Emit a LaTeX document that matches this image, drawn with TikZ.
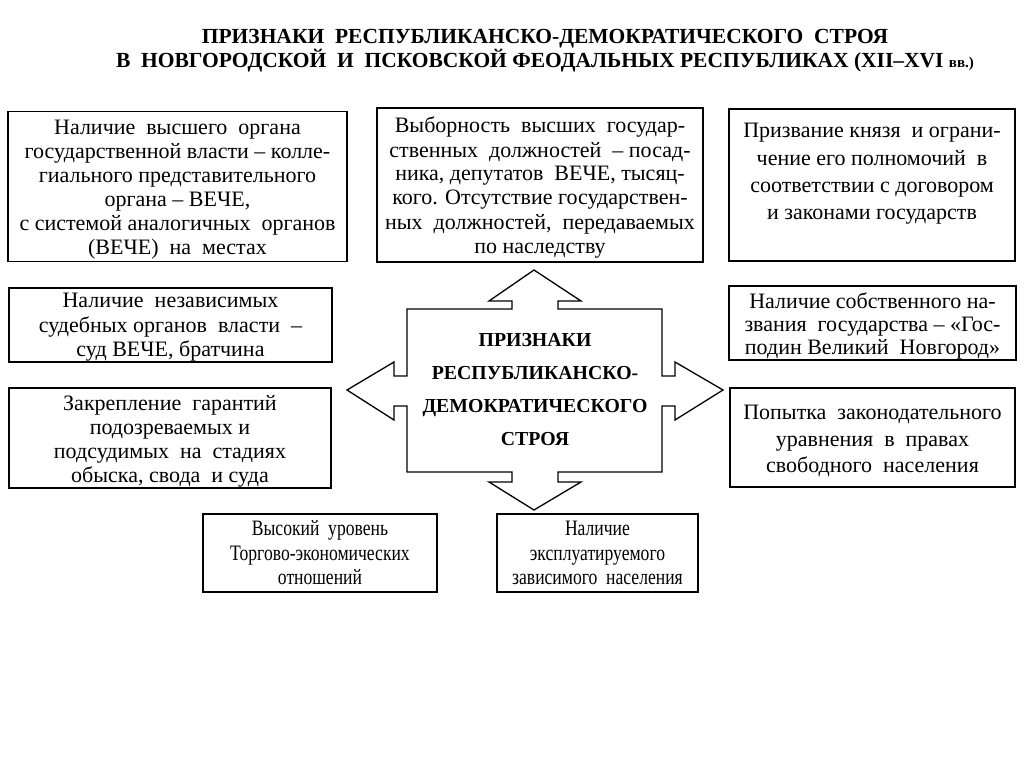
\documentclass[tikz,border=0pt]{standalone}
\usepackage{fontspec}
\setmainfont{Liberation Serif}
\newfontfamily\narrowserif[FakeStretch=0.8]{Liberation Serif}
\begin{document}
\begin{tikzpicture}[x=1pt,y=-1pt,
  box/.style={draw=black,line width=1.3pt,rectangle,inner sep=0pt},
  txt/.style={inner sep=0pt,align=center,font=\fontsize{22}{24}\selectfont},
  ntxt/.style={txt,font=\narrowserif\fontsize{22}{24.5}\selectfont},
  ttl/.style={inner sep=0pt,align=center,font=\bfseries\fontsize{21.5}{23.5}\selectfont},
  cen/.style={inner sep=0pt,align=center,font=\bfseries\fontsize{19.8}{33}\selectfont}]
\useasboundingbox (0,0) rectangle (1024,767);
\fill[white] (0,0) rectangle (1024,767);
% title
\node[ttl] (title) at (545,50.5) {ПРИЗНАКИ\ \ РЕСПУБЛИКАНСКО-ДЕМОКРАТИЧЕСКОГО\ \ СТРОЯ\\
В\ \ НОВГОРОДСКОЙ\ \ И\ \ ПСКОВСКОЙ ФЕОДАЛЬНЫХ РЕСПУБЛИКАХ (XII–XVI \fontsize{15}{23}\selectfont вв.)};
% boxes
\node[box,minimum width=339,minimum height=150] (tl) at (177.5,186.5) {};
\node[box,minimum width=326,minimum height=154] (tm) at (540,185) {};
\node[box,minimum width=286,minimum height=152] (tr) at (872,185) {};
\node[box,minimum width=323,minimum height=74] (l2) at (170.5,325) {};
\node[box,minimum width=322,minimum height=100] (l3) at (170,438) {};
\node[box,minimum width=287,minimum height=74] (r2) at (872.5,323) {};
\node[box,minimum width=285,minimum height=99] (r3) at (872.5,437.5) {};
\node[box,minimum width=234,minimum height=78] (b1) at (320,553) {};
\node[box,minimum width=201,minimum height=78] (b2) at (597.5,553) {};
% box texts
\node[txt] (tlt) at ([yshift=-3]tl.center) {Наличие\ \ высшего\ \ органа\\
государственной власти – колле-\\гиального представительного\\органа – ВЕЧЕ,\\с системой аналогичных\ \ органов\\(ВЕЧЕ)\ \ на\ \ местах};
\node[txt] (tmt) at ([yshift=-2.5]tm.center) {Выборность\ \ высших\ \ государ-\\
ственных\ \ должностей\ \ – посад-\\ника, депутатов\ \ ВЕЧЕ, тысяц-\\кого. Отсутствие государствен-\\ных\ \ должностей,\ \ передаваемых\\по наследству};
\node[txt,anchor=north,font=\fontsize{22}{27.3}\selectfont] (trt) at ([yshift=-15]tr.north) {Призвание князя\ \ и ограни-\\чение его полномочий\ \ в\\соответствии с договором\\и законами государств};
\node[txt,font=\fontsize{22}{24.5}\selectfont] (l2t) at ([yshift=-2.5]l2.center) {Наличие\ \ независимых\\судебных органов\ \ власти\ \ –\\суд ВЕЧЕ, братчина};
\node[txt] (l3t) at ([yshift=-3]l3.center) {Закрепление\ \ гарантий\\подозреваемых и\\подсудимых\ \ на\ \ стадиях\\обыска, свода\ \ и суда};
\node[txt,font=\fontsize{22}{23}\selectfont] (r2t) at ([yshift=-2.5]r2.center) {Наличие собственного на-\\звания\ \ государства – «Гос-\\подин Великий\ \ Новгород»};
\node[txt,font=\fontsize{22}{26.5}\selectfont] (r3t) at ([yshift=-3.5]r3.center) {Попытка\ \ законодательного\\уравнения\ \ в\ \ правах\\свободного\ \ населения};
\node[ntxt] (b1t) at (b1.center) {Высокий\ \ уровень\\Торгово-экономических\\отношений};
\node[ntxt] (b2t) at (b2.center) {Наличие\\эксплуатируемого\\зависимого\ \ населения};
% central cross-arrow
\draw[line width=1.3pt,line join=miter] (534,270) -- (581,301) -- (558,301) -- (558,309) -- (662,309) -- (662,376) -- (675,376) -- (675,362) -- (723,390) -- (675,420) -- (675,406) -- (662,406) -- (662,472) -- (558,472) -- (558,482) -- (581,482) -- (534,510) -- (489,482) -- (512,482) -- (512,472) -- (407,472) -- (407,406) -- (394,406) -- (394,420) -- (347,390) -- (394,362) -- (394,376) -- (407,376) -- (407,309) -- (512,309) -- (512,301) -- (489,301) -- cycle;
\node[cen] (ctext) at (535,389.5) {ПРИЗНАКИ\\РЕСПУБЛИКАНСКО-\\ДЕМОКРАТИЧЕСКОГО\\СТРОЯ};
\end{tikzpicture}
\end{document}
